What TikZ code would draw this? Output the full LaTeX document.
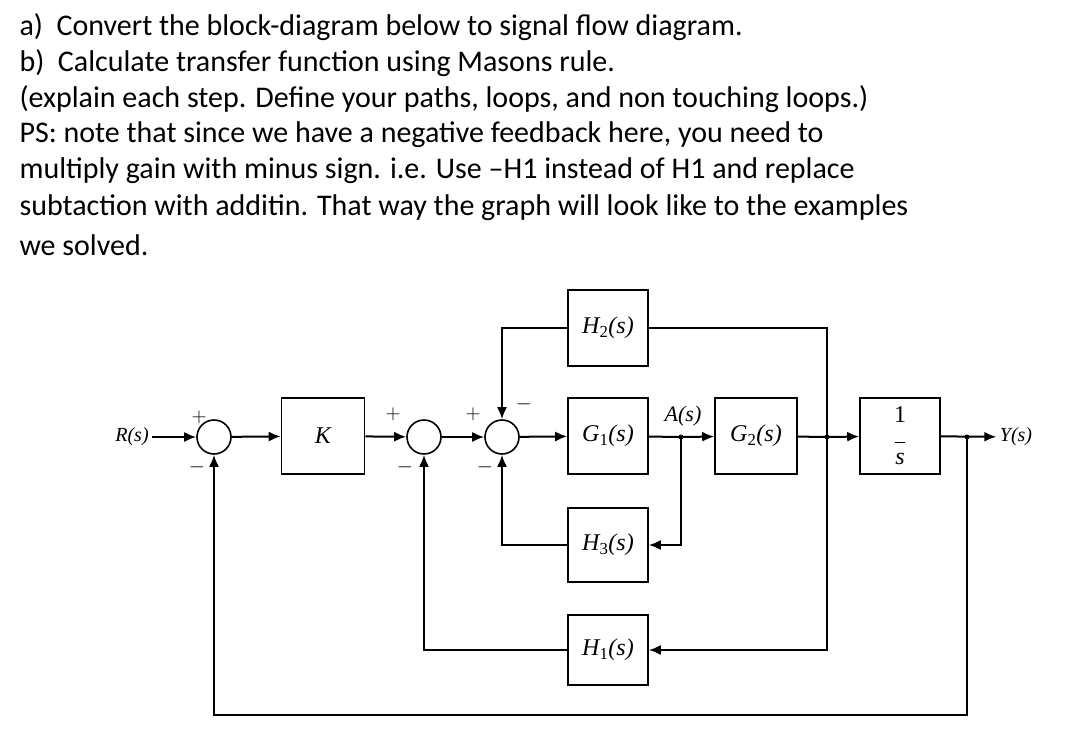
\documentclass[tikz,border=0pt]{standalone}
\usepackage{fontspec}
\setmainfont{Carlito}
\newfontfamily\diagfont{Liberation Serif}
\usetikzlibrary{arrows.meta, positioning}

\tikzset{
    blk/.style={draw, line width=1.6pt, minimum width=80pt, minimum height=76pt, font=\diagfont\itshape\fontsize{24}{26}\selectfont},
    sumj/.style={draw, line width=1.6pt, circle, minimum size=34pt, inner sep=0pt},
    sig/.style={line width=2pt, -{Latex[length=12pt,width=10pt]}},
    ln/.style={line width=2pt},
    lbl/.style={font=\diagfont\itshape\fontsize{20}{20}\selectfont},
    sgn/.style={font=\fontsize{20}{20}\selectfont},
    txt/.style={anchor=west, font=\fontsize{30}{36}\selectfont}
}
\newcommand{\sub}[1]{\textsubscript{\upshape #1}}

\begin{document}
\begin{tikzpicture}[x=1pt, y=-1pt]
    \useasboundingbox (0,0) rectangle (1072,750);

    % Question text
    \node[txt] at (16,27) {a)\ \ Convert the block-diagram below to signal flow diagram.};
    \node[txt] at (16,63) {b)\ \ Calculate transfer function using Masons rule.};
    \node[txt] at (16,99) {(explain each step. Define your paths, loops, and non touching loops.)};
    \node[txt] at (16,135) {PS: note that since we have a negative feedback here, you need to};
    \node[txt] at (16,171) {multiply gain with minus sign. i.e. Use --H1 instead of H1 and replace};
    \node[txt] at (16,208) {subtaction with additin. That way the graph will look like to the examples};
    \node[txt] at (16,245) {we solved.};

    % Forward path
    \node[lbl] (R) at (132,437) {R(s)};
    \node[sumj] (s1) at (214,437) {};
    \node[blk, minimum width=83pt] (K) at (323,436) {K};
    \node[sumj] (s2) at (424,437) {};
    \node[sumj] (s3) at (502,437) {};
    \node[blk] (G1) at (608,436) {G\sub{1}(s)};
    \node[blk, minimum width=82pt] (G2) at (756,436) {G\sub{2}(s)};
    \node[blk, align=center] (I) at (900,436) {\upshape 1\\[-6pt]\rule{10pt}{1pt}\\[-4pt]s};
    \node[lbl] (Y) at (1016,437) {Y(s)};

    % Feedback blocks
    \node[blk] (H2) at (608,328) {H\sub{2}(s)};
    \node[blk, minimum height=74pt] (H3) at (608,545) {H\sub{3}(s)};
    \node[blk, minimum height=70pt] (H1) at (608,650) {H\sub{1}(s)};

    % Branch points
    \coordinate (A) at (681,437);
    \coordinate (B) at (827,437);
    \coordinate (C) at (967,437);
    \node[lbl, font=\diagfont\itshape\fontsize{22}{22}\selectfont] at (683,416) {A(s)};
    \foreach \p in {A,B,C} \fill (\p) circle (2.5pt);

    \draw[sig] (R) -- (s1);
    \draw[sig] (s1) -- (K);
    \draw[sig] (K) -- (s2);
    \draw[sig] (s2) -- (s3);
    \draw[sig] (s3) -- (G1);
    \draw[ln] (G1) -- (A);
    \draw[sig] (A) -- (G2);
    \draw[ln] (G2) -- (B);
    \draw[sig] (B) -- (I);
    \draw[sig] (I) -- (Y);

    % Feedback loops
    \draw[ln] (B) |- (H2);
    \draw[sig] (H2) -| (s3);
    \draw[sig] (A) |- (H3);
    \draw[sig] (H3) -| (s3);
    \draw[sig] (B) |- (H1);
    \draw[sig] (H1) -| (s2);
    \draw[sig] (C) |- (214,715) -- (s1);

    % Signs
    \node[sgn] at (199,417) {$+$};
    \node[sgn] at (197,467) {$-$};
    \node[sgn] at (393,414) {$+$};
    \node[sgn] at (405,467) {$-$};
    \node[sgn] at (473,414) {$+$};
    \node[sgn] at (524,404) {$-$};
    \node[sgn] at (485,467) {$-$};
\end{tikzpicture}
\end{document}
